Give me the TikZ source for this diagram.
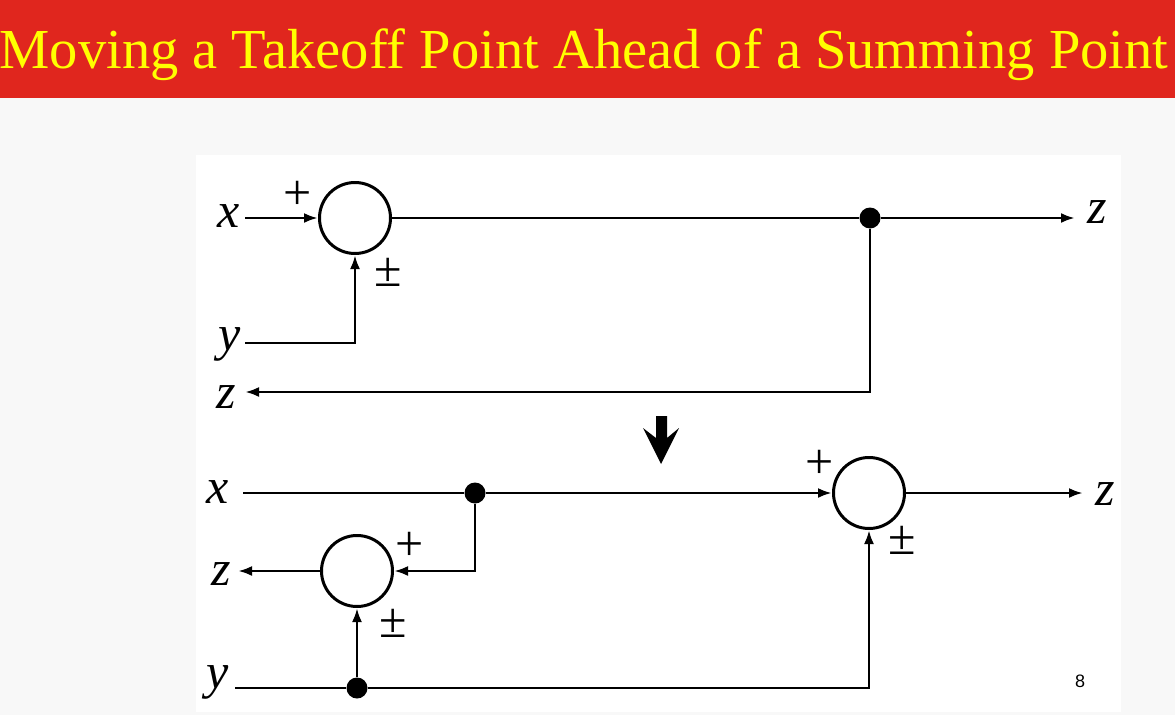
\documentclass[tikz,border=0pt]{standalone}
\usepackage{fontspec}
\setmainfont{Liberation Serif}
\setsansfont{Liberation Sans}
\usepackage{xcolor}
\usetikzlibrary{positioning,arrows.meta}
\definecolor{barred}{HTML}{E0261E}
\definecolor{titleyellow}{HTML}{FFFF00}
\definecolor{pagegrey}{HTML}{F8F8F8}
\tikzstyle{summer}=[circle, draw=black, line width=3pt, minimum size=71pt, inner sep=0pt]
\tikzstyle{takeoff}=[circle, fill=black, minimum size=21pt, inner sep=0pt]
\tikzstyle{sig}=[font=\fontsize{50}{50}\selectfont\itshape, inner sep=0pt, anchor=base]
\tikzstyle{sgn}=[font=\fontsize{50}{50}\selectfont, inner sep=0pt]
\tikzstyle{wire}=[line width=2.8pt]
\tikzstyle{flow}=[wire, -{Latex[length=14pt,width=10pt]}]

\begin{document}
\begin{tikzpicture}[x=1pt,y=-1pt]
        % page, title bar and white panel
        \fill[pagegrey] (0,0) rectangle (1175,715);
        \useasboundingbox (0,0) rectangle (1175,715);
        \fill[barred] (0,0) rectangle (1175,98);
        \node (title) [text=titleyellow, font=\rmfamily\fontsize{56.5}{56.5}\selectfont, inner sep=0pt, anchor=base] at (584,68)
        {Moving a Takeoff Point Ahead of a Summing Point};
        \fill[white] (196,155) rectangle (1121,712);

        % before
        \node (sumA) [summer] at (355,218) {};
        \node (xA) [sig] at (229,227) {x};
        \node (yA) [sig] at (230,350) {y};
        \node (zA) [sig] at (226,408) {z};
        \node (zoutA) [sig] at (1097,223) {z};
        \node (plusA) [sgn] at (298,195) {+};
        \node (pmA) [sgn] at (388,272) {±};
        \node (dotA) [takeoff] at (870,218) {};
        \coordinate (xinA) at (245,218);
        \coordinate (yinA) at (245,343);
        \coordinate (zendA) at (245,392);
        \coordinate (zarrA) at (1075,218);
        \draw[flow] (xinA) -- (sumA.west);
        \draw[flow] (yinA) -| (sumA.south);
        \draw[wire] (sumA.east) -- (dotA);
        \draw[flow] (dotA) -- (zarrA);
        \draw[flow] (dotA) |- (zendA);

        % big arrow
        \fill[black] (656,416) -- (667,416) -- (667,438) -- (679,428) -- (661,464) -- (643,428) -- (656,438) -- cycle;

        % after
        \node (sumB) [summer] at (869,493) {};
        \node (sumC) [summer] at (357,571) {};
        \node (xB) [sig] at (218,503) {x};
        \node (zB) [sig] at (221,585) {z};
        \node (yB) [sig] at (218,688) {y};
        \node (zoutB) [sig] at (1105,505) {z};
        \node (plusB) [sgn] at (820,464) {+};
        \node (pmB) [sgn] at (902,540) {±};
        \node (plusC) [sgn] at (410,546) {+};
        \node (pmC) [sgn] at (393,623) {±};
        \node (dotB) [takeoff] at (475,493) {};
        \node (dotC) [takeoff] at (357,688) {};
        \coordinate (xinB) at (243,493);
        \coordinate (yinB) at (235,688);
        \coordinate (zendB) at (238,571);
        \coordinate (zarrB) at (1083,493);
        \draw[wire] (xinB) -- (dotB);
        \draw[flow] (dotB) -- (sumB.west);
        \draw[flow] (dotB) |- (sumC.east);
        \draw[flow] (sumC.west) -- (zendB);
        \draw[flow] (sumB.east) -- (zarrB);
        \draw[wire] (yinB) -- (dotC);
        \draw[flow] (dotC) -- (sumC.south);
        \draw[flow] (dotC) -| (sumB.south);

        % page number
        \node (page) [font=\sffamily\fontsize{18}{18}\selectfont, inner sep=0pt] at (1080,681) {8};
\end{tikzpicture}
\end{document}
